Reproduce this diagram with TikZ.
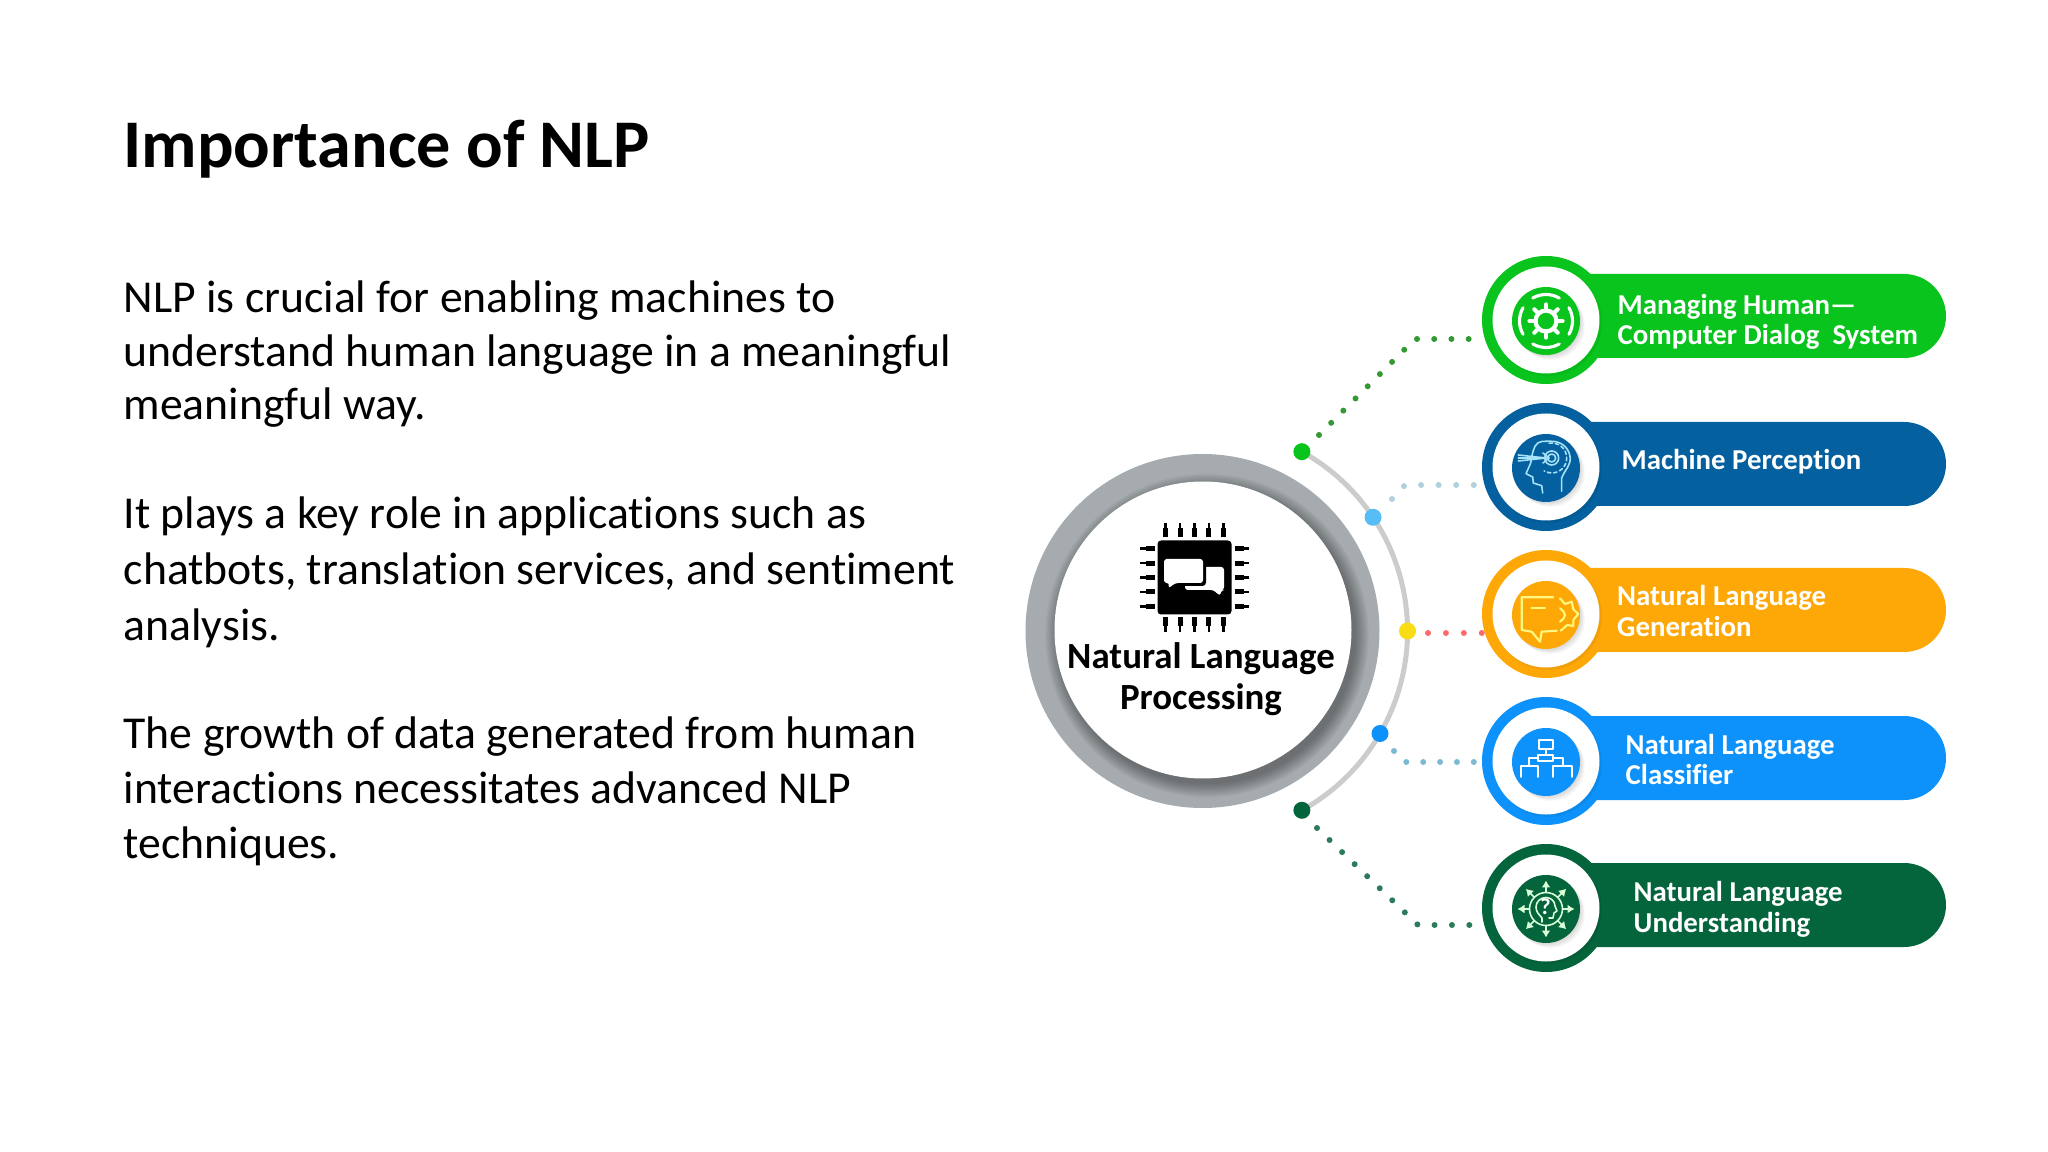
\documentclass[tikz,border=0pt]{standalone}
\usepackage{fontspec}
\setmainfont[Ligatures=CommonOff]{Carlito}
\usetikzlibrary{arrows.meta,calc,positioning}
\definecolor{cgreen}{RGB}{8,196,28}
\definecolor{cnavy}{RGB}{4,96,158}
\definecolor{camber}{RGB}{254,168,8}
\definecolor{csky}{RGB}{12,146,250}
\definecolor{cforest}{RGB}{4,100,60}
\definecolor{cring}{RGB}{165,171,174}
\definecolor{ctrack}{RGB}{204,204,204}
\definecolor{cknob}{RGB}{86,190,245}
\definecolor{cyel}{RGB}{250,220,20}
\tikzset{
  slidetitle/.style={anchor=base west,inner sep=0pt,font=\fontsize{19.4}{23}\selectfont\bfseries},
  bodytext/.style={anchor=north west,inner sep=0pt,align=left},
  pilllab/.style={anchor=west,inner sep=0pt,align=left,text=white,
    font=\fontsize{8.2}{8.65}\selectfont\bfseries},
  badge/.style={circle,minimum size=1.28cm,inner sep=0pt},
  hole/.style={circle,fill=white,minimum size=1.07cm,inner sep=0pt},
  disk/.style={circle,minimum size=0.68cm,inner sep=0pt},
  knob/.style={circle,minimum size=0.17cm,inner sep=0pt},
  dotline/.style={line width=1.7pt,line cap=round,dash pattern=on 0pt off #1},
  iconline/.style={line width=0.45pt,line cap=round,line join=round}
}
\begin{document}
\begin{tikzpicture}
\useasboundingbox (0,0) rectangle (20.48,-11.52);
\fill[white] (0,0) rectangle (20.48,-11.52);
% ---------------- left column ----------------
\node[slidetitle] (title) at (1.23,-1.68) {Importance of NLP};
\node[bodytext,font=\fontsize{13}{15.3}\selectfont] (paraA) at (1.23,-2.80)
  {NLP is crucial for enabling machines to\\understand human language in a meaningful\\meaningful way.};
\node[bodytext,font=\fontsize{13}{15.9}\selectfont] (paraB) at (1.23,-4.96)
  {It plays a key role in applications such as\\chatbots, translation services, and sentiment\\analysis.};
\node[bodytext,font=\fontsize{13}{15.6}\selectfont] (paraC) at (1.23,-7.16)
  {The growth of data generated from human\\interactions necessitates advanced NLP\\techniques.};
% ---------------- centre ring ----------------
\coordinate (hub) at (12.025,-6.31);
\fill[cring] (hub) circle (1.77);
\foreach \i in {0,1,...,11}
  \fill[black,opacity=0.03] ($(hub)+(0.045,-0.045)$) circle (1.485+\i*0.012);
\fill[white] (12.03,-6.30) circle (1.485);
\draw[ctrack,line width=0.05cm] (hub) ++(61:2.05) arc[start angle=61,end angle=-61,radius=2.05];
\node[knob,fill=cgreen] (kA) at ($(hub)+(61:2.05)$) {};
\node[knob,fill=cknob] (kB) at ($(hub)+(33.7:2.05)$) {};
\node[knob,fill=cyel] (kC) at ($(hub)+(0:2.05)$) {};
\node[knob,fill=csky] (kD) at ($(hub)+(-30:2.05)$) {};
\node[knob,fill=cforest] (kE) at ($(hub)+(-61:2.05)$) {};
\node[font=\fontsize{10.5}{11.6}\selectfont\bfseries,align=center,inner sep=0pt] (hublab) at (12.01,-6.795)
  {Natural Language\\Processing};
% chip
\begin{scope}[shift={(11.945,-5.775)}]
  \fill[black,rounded corners=1pt] (-0.37,-0.37) rectangle (0.37,0.37);
  \foreach \p in {-0.288,-0.144,0,0.144,0.288} {
    \draw[line width=0.05cm] (\p,0.40) -- (\p,0.49);
    \draw[line width=0.025cm] (\p,0.48) -- (\p,0.545);
    \draw[line width=0.05cm] (\p,-0.40) -- (\p,-0.49);
    \draw[line width=0.025cm] (\p,-0.48) -- (\p,-0.545);
    \draw[line width=0.05cm] (0.40,\p) -- (0.49,\p);
    \draw[line width=0.025cm] (0.48,\p) -- (0.545,\p);
    \draw[line width=0.05cm] (-0.40,\p) -- (-0.49,\p);
    \draw[line width=0.025cm] (-0.48,\p) -- (-0.545,\p);
  }
  \fill[white,rounded corners=0.8pt] (-0.095,0.105) -- (0.295,0.105) -- (0.295,-0.125) -- (0.27,-0.125) -- (0.255,-0.185) -- (0.19,-0.125) -- (-0.095,-0.125) -- cycle;
  \fill[black,rounded corners=1pt] (-0.33,0.20) rectangle (0.115,-0.085);
  \fill[white,rounded corners=0.8pt] (-0.305,0.185) -- (0.085,0.185) -- (0.085,-0.055) -- (-0.19,-0.055) -- (-0.265,-0.11) -- (-0.25,-0.055) -- (-0.305,-0.055) -- cycle;
\end{scope}
% ---------------- pills ----------------
\foreach \nm/\cc/\py/\by/\txt/\tx/\ty in {
  one/cgreen/3.16/3.20/{Managing Human---\\Computer Dialog\ \ System}/16.17/0.06,
  two/cnavy/4.64/4.67/{Machine Perception}/16.21/-0.026,
  three/camber/6.10/6.14/{Natural Language\\Generation}/16.165/0.01,
  four/csky/7.58/7.61/{Natural Language\\Classifier}/16.25/0.013,
  five/cforest/9.05/9.08/{Natural Language\\Understanding}/16.33/0.045} {
  \fill[\cc,rounded corners=0.42cm] (15.46,-\py+0.42) rectangle (19.46,-\py-0.42);
  \node[badge,fill=\cc] (b\nm) at (15.46,-\by) {};
  \fill[black,opacity=0.05] (15.48,-\by-0.02) circle (0.54);
  \node[hole] (h\nm) at (15.46,-\by) {};
  \foreach \i in {1,2,3,4}
    \fill[black,opacity=0.035] (15.46+\i*0.012,-\by-0.01-\i*0.012) circle (0.34);
  \node[disk,fill=\cc] (d\nm) at (15.46,-\by-0.01) {};
  \node[pilllab] (t\nm) at (\tx,-\py-\ty) {\txt};
}
% ---------------- icons ----------------
\begin{scope}[shift={(done.center)},white,iconline]
  \draw[line width=1.2pt] (0,0) circle (0.105);
  \foreach \a in {0,45,...,315}
    \draw[line width=1.2pt] (\a:0.12) -- (\a:0.165);
  \foreach \a in {90,180,270,0}
    \draw[line width=0.9pt] (\a-30:0.265) arc[start angle=\a-30,end angle=\a+30,radius=0.265];
\end{scope}
\begin{scope}[shift={(dtwo.center)},cyan!35!white,iconline]
  \draw (0.157,-0.233) -- (0.157,-0.10) to[out=70,in=-80] (0.24,0.117) to[out=100,in=0] (0.057,0.267)
    to[out=180,in=65] (-0.11,0.217) to[out=-115,in=80] (-0.153,0.05) -- (-0.2,-0.057) -- (-0.133,-0.09)
    -- (-0.127,-0.15) -- (-0.043,-0.177) -- (-0.033,-0.25);
  \draw[dash pattern=on 1pt off 0.8pt] (0.057,0.1) ++(100:0.15) arc[start angle=100,end angle=-120,radius=0.15];
  \draw (0.057,0.1) circle (0.04) (0.057,0.1) circle (0.07);
  \foreach \y in {0.13,0.1,0.07}
    \draw (-0.277,\y) -- (0,0.1);
  \draw (-0.03,0.15) -- (0.03,0.1) -- (-0.03,0.05);
\end{scope}
\begin{scope}[shift={(dthree.center)},yellow!50!white,iconline,line width=0.6pt]
  \draw (0.073,0.177) -- (-0.243,0.177) -- (-0.243,-0.15) -- (-0.143,-0.167) -- (-0.06,-0.267) -- (-0.043,-0.167) -- (0.107,-0.157);
  \draw (-0.143,0.067) -- (-0.01,0.067);
  \draw (0.14,0.167) -- (0.19,0.11) -- (0.257,0.133) -- (0.273,0.057) -- (0.323,0.01) -- (0.273,-0.05) -- (0.273,-0.11) -- (0.213,-0.1) -- (0.147,-0.157);
  \draw (0.14,0.067) to[out=-45,in=90] (0.19,0) to[out=-90,in=45] (0.14,-0.067);
\end{scope}
\begin{scope}[shift={(dfour.center)},white,iconline,line width=0.55pt]
  \draw (-0.067,0.127) rectangle (0.067,0.217);
  \draw (-0.077,0.01) rectangle (0.073,0.07);
  \draw (0,0.127) -- (0,0.07);
  \draw (-0.077,0.043) -- (-0.167,0.043) -- (-0.167,-0.04);
  \draw (0.073,0.043) -- (0.173,0.043) -- (0.173,-0.04);
  \draw (-0.253,-0.15) -- (-0.253,-0.04) -- (-0.077,-0.04) -- (-0.077,-0.15);
  \draw (0.073,-0.15) -- (0.073,-0.04) -- (0.257,-0.04) -- (0.257,-0.15);
\end{scope}
\begin{scope}[shift={(dfive.center)},green!15!white,iconline]
  \draw (0,0) circle (0.165);
  \draw (-0.04,-0.13) -- (-0.04,-0.09) to[out=130,in=-90] (-0.1,0.02) to[out=90,in=180] (0,0.115) to[out=0,in=90] (0.09,0.03) -- (0.11,-0.02) -- (0.08,-0.04) -- (0.07,-0.09) -- (0.03,-0.09);
  \node[font=\fontsize{6.5}{8}\selectfont\bfseries,inner sep=0pt,text=white] (qmark) at (-0.005,0.02) {?};
  \foreach \a in {0,45,...,315}
    \draw[-{Latex[length=0.7mm,width=0.9mm]}] (\a:0.165) -- (\a:0.285);
\end{scope}
% ---------------- dotted leaders ----------------
\coordinate (aS) at (13.19,-4.35); \coordinate (aM) at (14.15,-3.39); \coordinate (aE) at (14.71,-3.39);
\coordinate (bS) at (13.92,-4.99); \coordinate (bM) at (14.05,-4.85); \coordinate (bE) at (14.74,-4.85);
\coordinate (cS) at (14.28,-6.33); \coordinate (cE) at (14.82,-6.33);
\coordinate (dS) at (13.94,-7.51); \coordinate (dM) at (14.05,-7.62); \coordinate (dE) at (14.74,-7.62);
\coordinate (eS) at (13.17,-8.28); \coordinate (eM) at (14.18,-9.25); \coordinate (eE) at (14.72,-9.25);
\draw[dotline=4.9pt,green!50!black!80] (aS) -- (aM) -- (aE);
\draw[dotline=5pt,cyan!60!black!35] (bS) -- (bM) -- (bE);
\draw[dotline=5.1pt,red!45!pink] (cS) -- (cE);
\draw[dotline=4.8pt,cyan!70!black!60] (dS) -- (dM) -- (dE);
\draw[dotline=4.95pt,cforest!85] (eS) -- (eM) -- (eE);
\end{tikzpicture}
\end{document}
